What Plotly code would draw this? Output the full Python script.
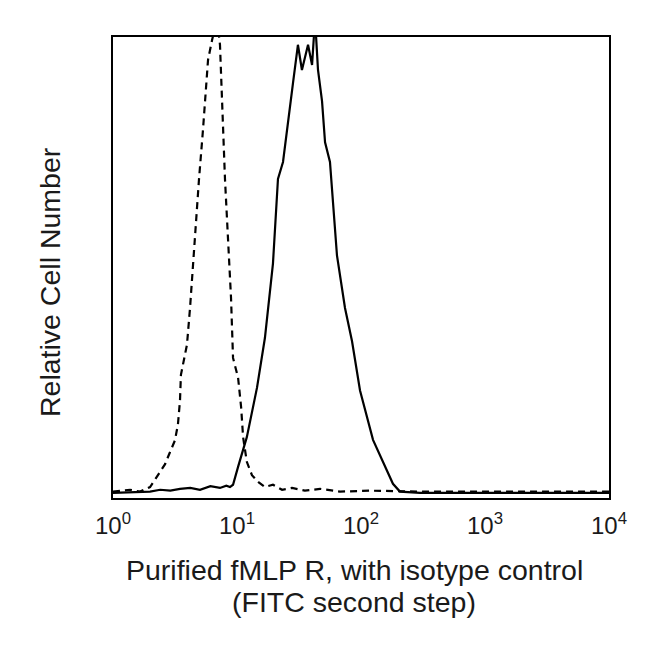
import plotly.graph_objects as go

# Solid histogram: fMLP R staining
solid_x = [1.0, 1.99, 2.4, 2.9, 3.47, 4.2, 5.03, 6.1, 7.29, 8.2, 8.78, 9.29, 10.2, 12.0, 14.5, 16.8, 19.5,
           21.4, 23.5, 26.8, 28.3, 31.0, 33.4, 37.4, 40.3, 42.6, 45.0, 48.5, 51.3, 56.2, 59.5, 64.0,
           74.3, 84.6, 98.2, 125, 181, 206, 299, 10000]
solid_y = [0.4, 0.7, 1.1, 0.9, 1.3, 1.5, 1.1, 1.9, 1.5, 2.0, 1.7, 2.2, 6.1, 12.6, 23.4, 34.3, 50.5,
           69.0, 72.7, 84.2, 90.0, 98.3, 92.8, 98.3, 93.9, 104, 92.8, 86.0, 77.0, 72.7, 64.0, 52.3,
           40.8, 33.6, 22.8, 12.0, 2.4, 0.7, 0.4, 0.4]

# Dashed histogram: isotype control
dash_x = [1.0, 1.14, 1.37, 1.65, 1.99, 2.18, 2.39, 2.63, 2.88, 3.16, 3.34, 3.47, 3.53, 3.74, 3.95,
          4.18, 4.42, 4.67, 4.94, 5.32, 5.52, 5.84, 6.29, 6.90, 7.29, 7.57, 8.0, 8.46, 8.95, 9.29,
          10.2, 10.8, 11.2, 12.0, 13.2, 14.8, 16.8, 19.5, 23.1, 27.8, 35.3, 46.7, 67.7, 118, 299,
          1321, 10000]
dash_y = [0.7, 0.9, 1.1, 0.7, 1.7, 3.3, 5.0, 6.7, 9.3, 11.9, 15.4, 20.6, 26.2, 29.9, 32.8,
          40.8, 51.0, 60.3, 69.0, 79.8, 86.3, 95.0, 99.3, 104, 98.3, 86.3, 69.0, 56.0, 43.0, 29.9,
          25.6, 19.1, 12.6, 7.2, 4.3, 2.8, 1.7, 2.2, 1.1, 1.5, 0.9, 1.3, 0.7, 0.9, 0.7,
          0.7, 0.7]

tick_vals = [1, 10, 100, 1000, 10000]
tick_text = ["10<sup>0</sup>", "10<sup>1</sup>", "10<sup>2</sup>", "10<sup>3</sup>", "10<sup>4</sup>"]

x_title_1 = "Purified fMLP R, with isotype control"
x_title_2 = "(FITC second step)"
y_title = "Relative Cell Number"

FONT = "Liberation Sans, Arial, sans-serif"
TXT = "#1a1a1a"

fig = go.Figure()
fig.add_trace(go.Scatter(x=dash_x, y=dash_y, mode="lines",
                         line=dict(color="black", width=2.2, dash="7px,5px"),
                         showlegend=False, hoverinfo="skip"))
fig.add_trace(go.Scatter(x=solid_x, y=solid_y, mode="lines",
                         line=dict(color="black", width=2.2),
                         showlegend=False, hoverinfo="skip"))

fig.update_layout(
    width=650, height=657,
    margin=dict(l=105, r=49, t=29, b=167),
    paper_bgcolor="white", plot_bgcolor="white",
    font=dict(family=FONT, color=TXT),
    xaxis=dict(type="log", range=[0, 4], tickvals=tick_vals, ticktext=tick_text,
               tickfont=dict(size=24, color=TXT), showgrid=False, zeroline=False,
               showline=True, linecolor="black", linewidth=2, mirror=True,
               ticks="", ticklabelstandoff=5),
    yaxis=dict(range=[-0.7, 100], showticklabels=False, showgrid=False, zeroline=False,
               showline=True, linecolor="black", linewidth=2, mirror=True, ticks=""),
    annotations=[
        dict(text=x_title_1, xref="paper", yref="paper", x=0.486, y=0, yshift=-72,
             xanchor="center", yanchor="middle", showarrow=False,
             font=dict(size=28.5, color=TXT, family=FONT)),
        dict(text=x_title_2, xref="paper", yref="paper", x=0.486, y=0, yshift=-104,
             xanchor="center", yanchor="middle", showarrow=False,
             font=dict(size=28.5, color=TXT, family=FONT)),
        dict(text=y_title, xref="paper", yref="paper", x=0, xshift=-63, y=0.4685,
             xanchor="center", yanchor="middle", textangle=-90, showarrow=False,
             font=dict(size=28.5, color=TXT, family=FONT)),
    ],
)

fig.write_html("out.html")
